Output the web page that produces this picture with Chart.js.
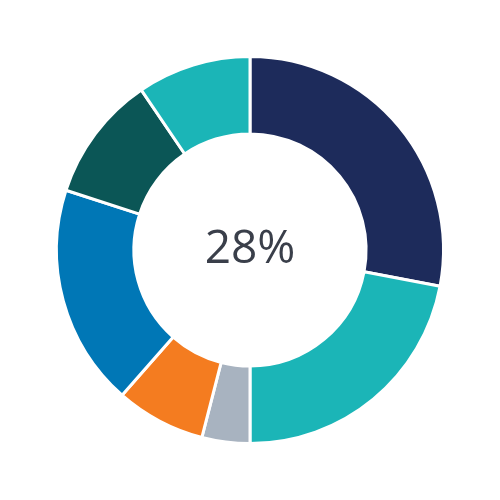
<!DOCTYPE html>
<html lang="en">
  <head>
    <meta charset="UTF-8" />
    <title>Share</title>
    <script src="https://cdn.jsdelivr.net/npm/chart.js"></script>
    <style>
      html,
      body {
        margin: 0;
        padding: 0;
        background: #ffffff;
      }
      #wrap {
        width: 500px;
        height: 500px;
      }
    </style>
  </head>
  <body>
    <div id="wrap"><canvas id="donut"></canvas></div>

    <script>
      // segments, clockwise from 12 o'clock
      var labels = ["A", "B", "C", "D", "E", "F", "G"];
      var values = [28, 22, 4, 7.5, 18.5, 10.5, 9.5];
      var colors = [
        "#1d2b5b",
        "#1bb5b7",
        "#a8b3c0",
        "#f47c20",
        "#0077b6",
        "#0b5656",
        "#1bb5b7",
      ];
      var centerLabel = "28%";

      // draws the big number in the hole
      var centerText = {
        id: "centerText",
        afterDraw: function (chart) {
          var c = chart.ctx;
          var meta = chart.getDatasetMeta(0).data[0];
          c.save();
          c.font = "400 46px 'Open Sans'";
          c.fillStyle = "#3a3f4a";
          c.textAlign = "center";
          c.textBaseline = "alphabetic";
          c.fillText(centerLabel, meta.x, meta.y + 13);
          c.restore();
        },
      };

      var ctx = document.getElementById("donut").getContext("2d");
      new Chart(ctx, {
        type: "doughnut",
        data: {
          labels: labels,
          datasets: [
            {
              data: values,
              backgroundColor: colors,
              borderColor: "#ffffff",
              borderWidth: 3,
              hoverOffset: 0,
            },
          ],
        },
        options: {
          responsive: true,
          maintainAspectRatio: false,
          animation: false,
          cutout: "60%",
          layout: { padding: 55 },
          plugins: {
            legend: { display: false },
            tooltip: { enabled: false },
          },
        },
        plugins: [centerText],
      });
    </script>
  </body>
</html>
